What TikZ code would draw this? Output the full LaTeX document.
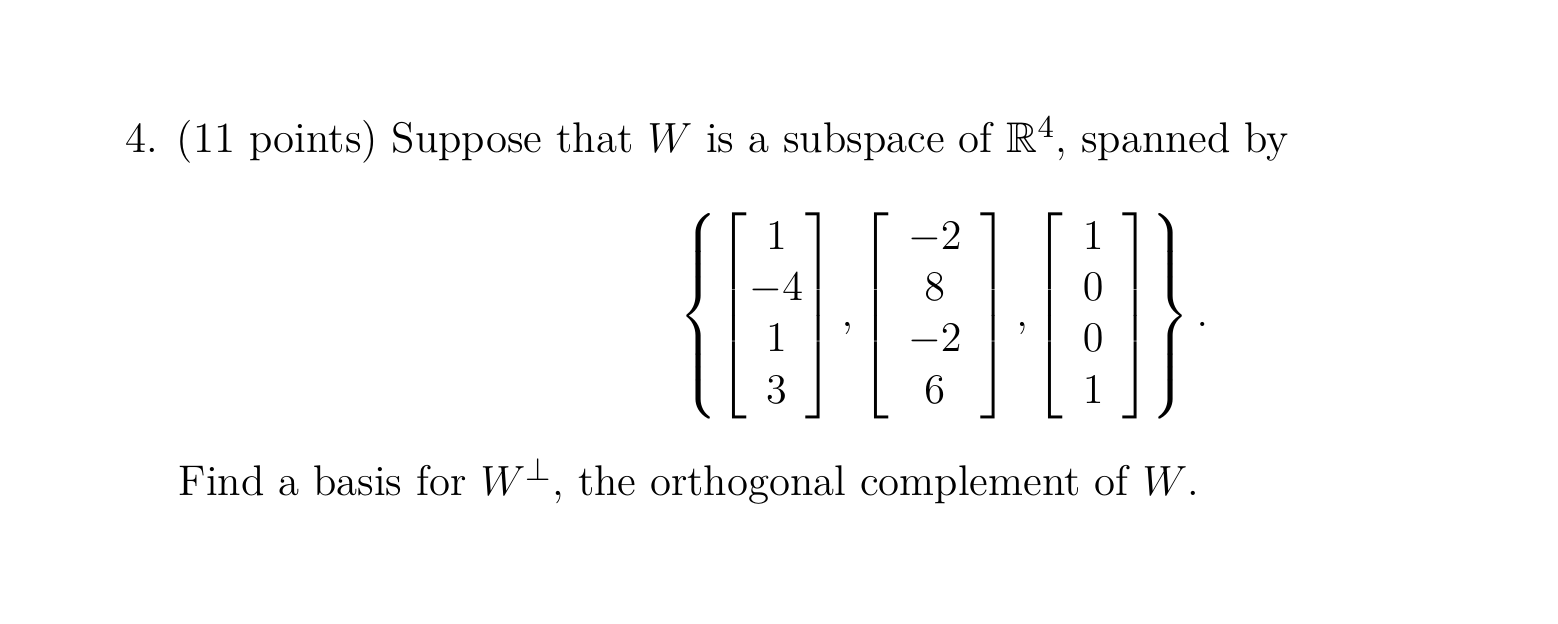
\documentclass[tikz,border=0pt]{standalone}
\usepackage{amsmath,amssymb}
\newcommand{\pd}[1]{\hspace{5.5pt}#1\hspace{5.5pt}}
\begin{document}
\begin{tikzpicture}[x=1cm,y=-1cm,txt/.style={inner sep=0pt,font=\fontsize{12.2}{14.6}\selectfont}]
\useasboundingbox (0,0) rectangle (15.58,6.24);
\node[txt,anchor=base west] (l1) at (1.25,1.53) {4. (11 points) Suppose that $W$ is a subspace of $\mathbb{R}^4$, spanned by};
\node[txt,anchor=center] (m) at (9.44,3.16) {$\left\{\begin{bmatrix}\pd{1}\\-4\\1\\3\end{bmatrix},\begin{bmatrix}\pd{-2}\\8\\-2\\6\end{bmatrix},\begin{bmatrix}\pd{1}\\0\\0\\1\end{bmatrix}\right\}.$};
\node[txt,anchor=base west] (l2) at (1.78,4.96) {Find a basis for $W^\perp$, the orthogonal complement of $W$.};
\end{tikzpicture}
\end{document}
